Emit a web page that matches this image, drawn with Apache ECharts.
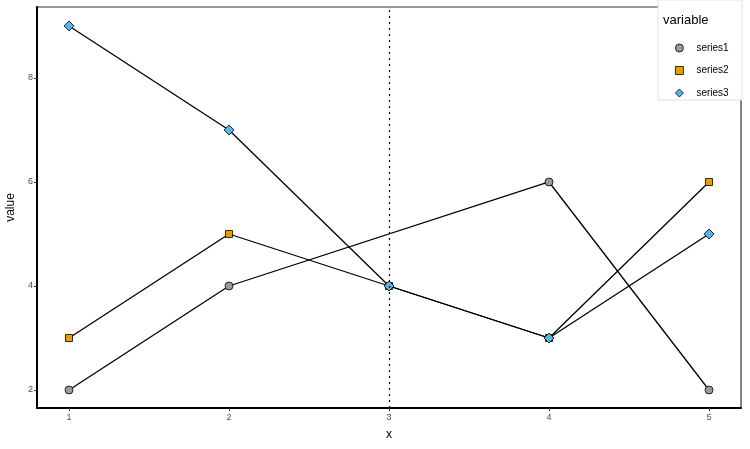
<!DOCTYPE html>
<html>
<head>
<meta charset="utf-8">
<script src="https://cdn.jsdelivr.net/npm/echarts@6/dist/echarts.min.js"></script>
<style>
  html, body { margin: 0; padding: 0; background: #fff; }
  #chart { width: 750px; height: 449px; }
</style>
</head>
<body>
<div id="chart"></div>
<script>
const xValues = [1, 2, 3, 4, 5]
// series1 在 x=3 沒有值（線直接由 2 連到 4）
const series1 = [2, 4, null, 6, 2]
const series2 = [3, 5, 4, 3, 6]
const series3 = [9, 7, 4, 3, 5]
const xTicks = [1, 2, 3, 4, 5]
const yTicks = [2, 4, 6, 8]
const vLineAt = 3

const chart = echarts.init(document.getElementById('chart'))

const font = 'Liberation Sans, Arial, sans-serif'

// 把 x 和 y 配對成點，略過缺值
const pairs = (ys) => xValues.map((x, i) => [x, ys[i]]).filter(p => p[1] !== null)

const makeSeries = (name, data, symbol, color) => ({
  name,
  type: 'line',
  data: pairs(data),
  symbol,
  symbolSize: symbol === 'diamond' ? 10 : (symbol === 'rect' ? 7 : 8),
  showAllSymbol: true,
  lineStyle: { color: '#000', width: 1.3 },
  itemStyle: { color, borderColor: '#000', borderWidth: 0.8 },
  z: 3
})

const option = {
  animation: false,
  textStyle: { fontFamily: font },
  grid: {
    left: 37, right: 9, top: 7, bottom: 41,
    outerBoundsMode: 'none',
    containLabel: false,
    show: true, borderColor: '#333', borderWidth: 1.2
  },
  xAxis: {
    type: 'value',
    min: 0.8, max: 5.2,
    name: 'x', nameLocation: 'middle', nameGap: 21,
    nameTextStyle: { fontSize: 12, color: '#000' },
    axisLine: { show: true, onZero: false, lineStyle: { color: '#000', width: 2 } },
    axisTick: { show: true, customValues: xTicks, length: 3, lineStyle: { color: '#333' } },
    axisLabel: { customValues: xTicks, color: '#4d4d4d', fontSize: 9, margin: 5 },
    splitLine: { show: false }
  },
  yAxis: {
    type: 'value',
    min: 1.654, max: 9.365,
    name: 'value', nameLocation: 'middle', nameGap: 16, nameRotate: 90,
    nameTextStyle: { fontSize: 12, color: '#000' },
    axisLine: { show: true, onZero: false, lineStyle: { color: '#000', width: 2 } },
    axisTick: { show: true, customValues: yTicks, length: 3, lineStyle: { color: '#333' } },
    axisLabel: { customValues: yTicks, color: '#4d4d4d', fontSize: 9, margin: 4 },
    splitLine: { show: false }
  },
  legend: {
    orient: 'vertical',
    left: 670, top: 38,
    itemWidth: 8, itemHeight: 8, itemGap: 12.5,
    itemStyle: { borderWidth: 0.8, borderColor: '#000' },
    textStyle: { fontSize: 10, color: '#000', padding: [0, 0, 0, 8] },
    data: [
      { name: 'series1', icon: 'circle' },
      { name: 'series2', icon: 'rect' },
      { name: 'series3', icon: 'diamond' }
    ],
    z: 10
  },
  graphic: [
    {
      type: 'rect', z: 8,
      shape: { x: 658, y: 0, width: 84, height: 100 },
      style: { fill: '#fff', stroke: '#e0e0e0', lineWidth: 1 }
    },
    {
      type: 'text', z: 9, left: 663, top: 14,
      style: { text: 'variable', font: '13px ' + font, fill: '#000' }
    }
  ],
  series: [
    makeSeries('series1', series1, 'circle', '#999999'),
    makeSeries('series2', series2, 'rect', '#E69F00'),
    Object.assign(makeSeries('series3', series3, 'diamond', '#56B4E9'), {
      markLine: {
        silent: true,
        symbol: 'none',
        label: { show: false },
        lineStyle: { color: '#000', type: [2, 4], width: 1.2 },
        data: [{ xAxis: vLineAt }]
      }
    })
  ]
}

chart.setOption(option)
</script>
</body>
</html>
